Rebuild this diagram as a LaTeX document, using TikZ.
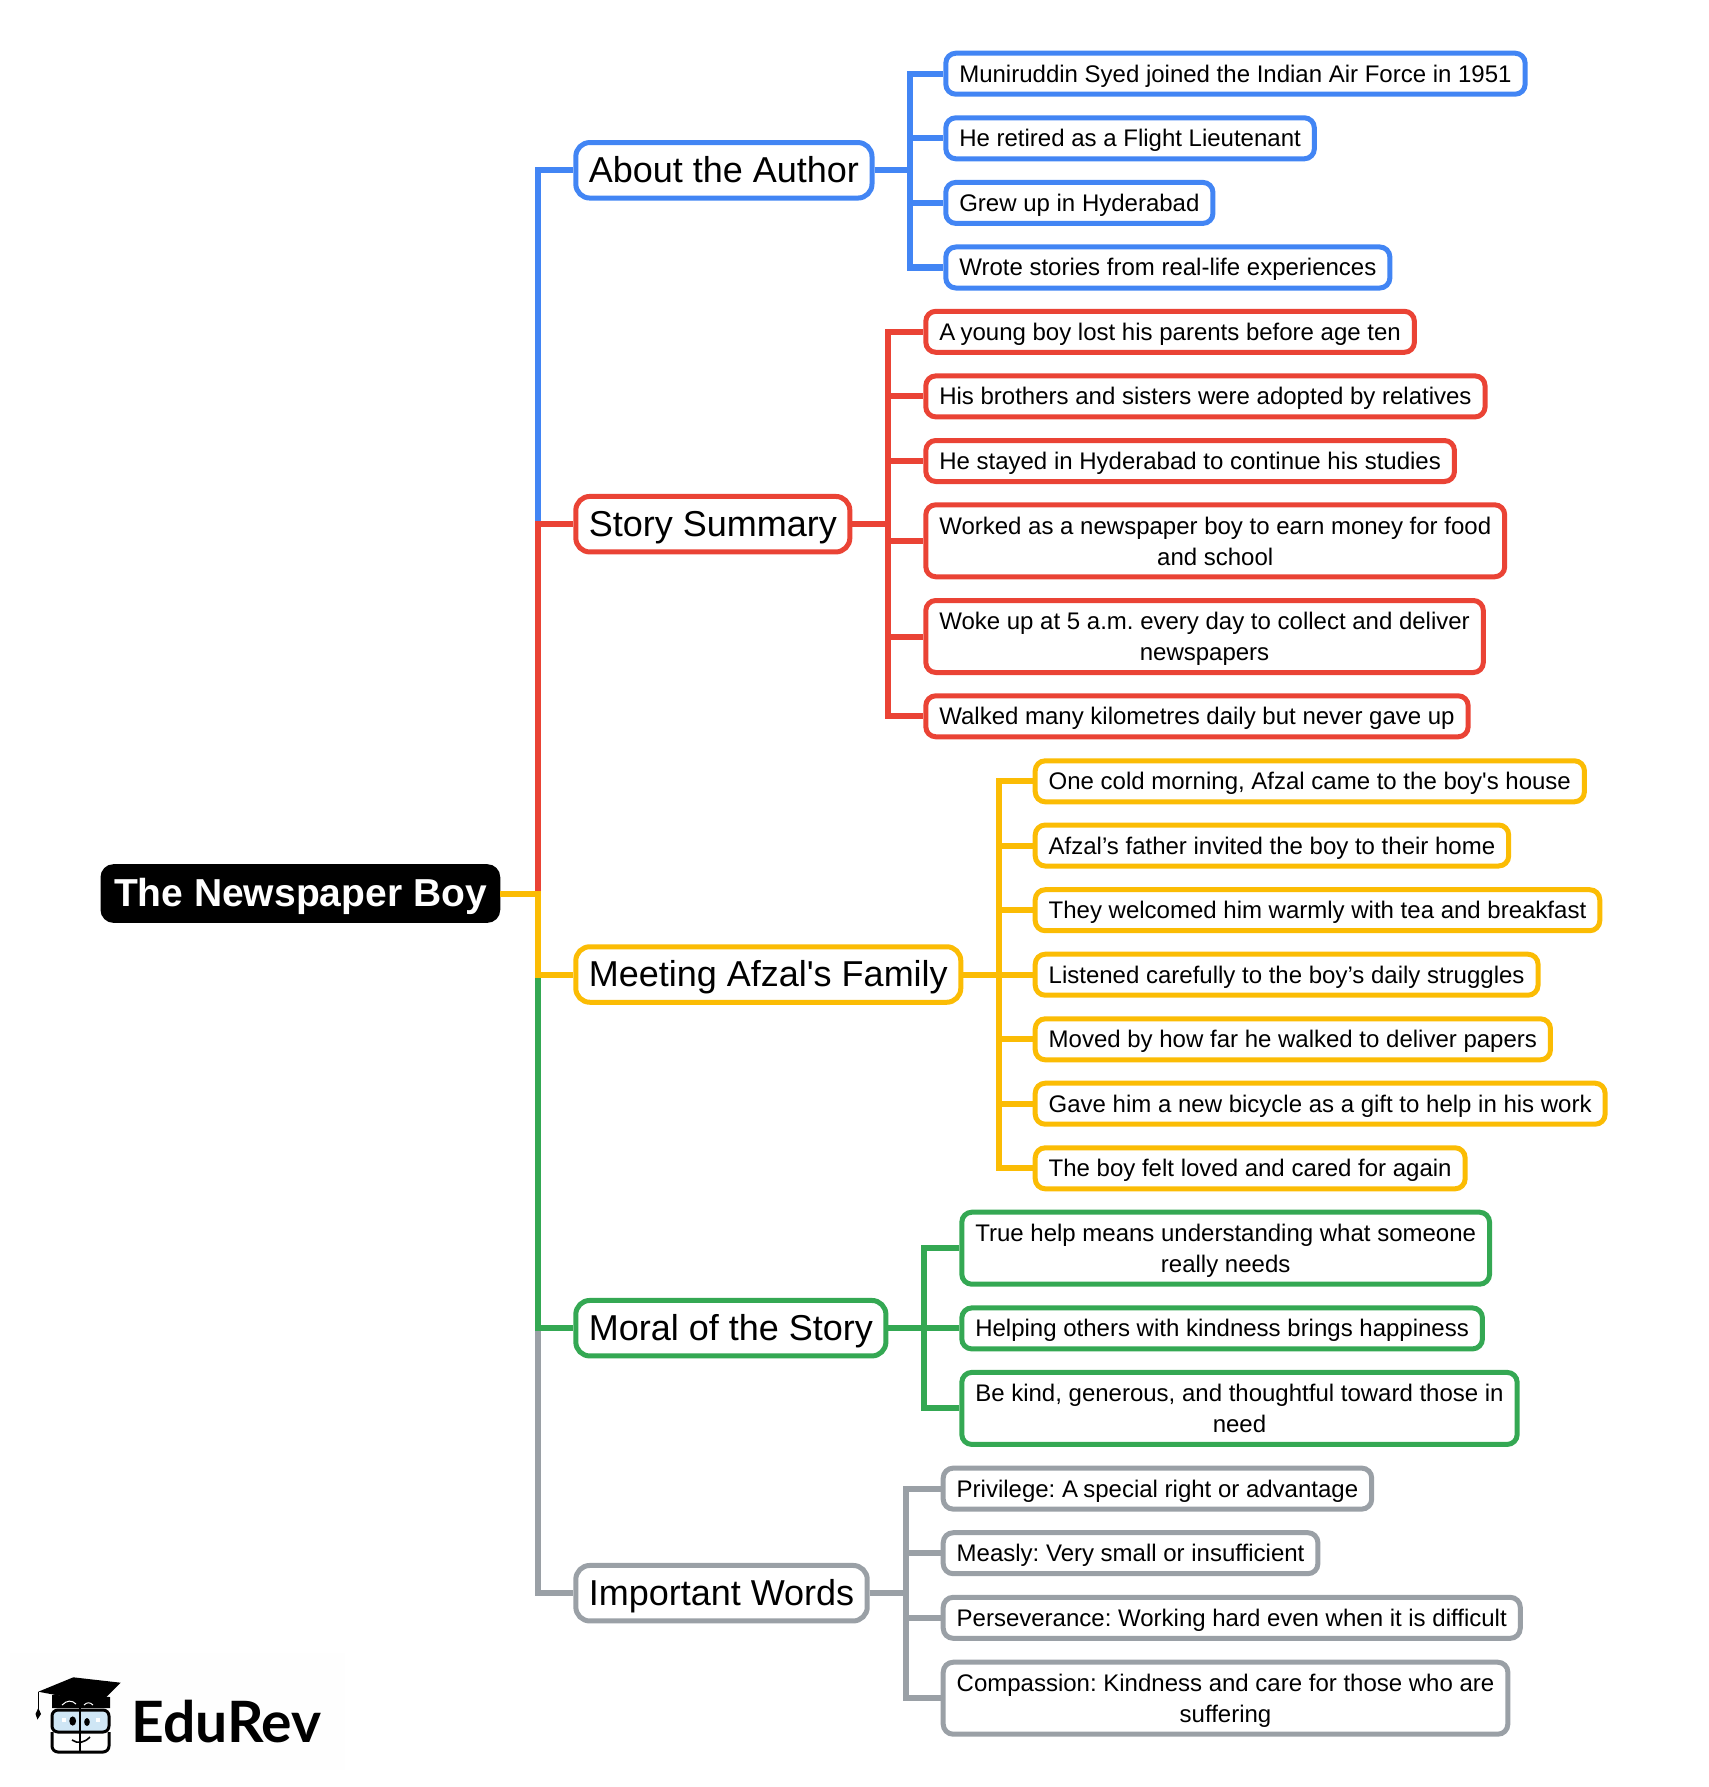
\documentclass[tikz,border=0pt]{standalone}
\usepackage{fontspec}
\setmainfont{Liberation Sans}
\newfontfamily\straightfont{Liberation Sans}
\newfontfamily\logofont{Lato}
\usetikzlibrary{shapes,arrows,calc}
\definecolor{authorblue}{HTML}{4285F4}
\definecolor{storyred}{HTML}{EA4335}
\definecolor{familyyellow}{HTML}{FBBC04}
\definecolor{moralgreen}{HTML}{34A853}
\definecolor{wordsgray}{HTML}{9AA0A6}
\definecolor{glassblue}{HTML}{CFE6F5}
\newcommand{\sq}{{\straightfont'}}
\newcommand{\firstline}{\rule{0pt}{23pt}}
\newcommand{\lastline}{\rule[-5.2pt]{0pt}{5.2pt}}
\tikzstyle{root} = [rectangle, fill=black, text=white, anchor=west, rounded corners=13pt, inner xsep=13.5pt,
    minimum height=58.7pt, text height=29pt, text depth=4pt, font=\fontsize{39}{45}\selectfont\bfseries]
\tikzstyle{branch} = [rectangle, draw, fill=white, line width=5pt, anchor=west, rounded corners=14pt, inner xsep=13pt,
    minimum height=55.5pt, text height=29pt, text depth=5pt, font=\fontsize{36}{42}\selectfont]
\tikzstyle{leaf} = [rectangle, draw, fill=white, line width=5pt, anchor=west, rounded corners=10pt, inner xsep=13.5pt,
    minimum height=41pt, inner ysep=0pt, text height=21pt, text depth=4pt, font=\fontsize{24}{31}\selectfont]
\tikzstyle{twoline} = [rectangle, draw, fill=white, line width=5pt, anchor=west, rounded corners=10pt, inner xsep=13.5pt,
    minimum height=72pt, inner ysep=5pt, align=center, font=\fontsize{24}{31}\selectfont]
\tikzstyle{line} = [draw, line width=6pt]

\begin{document}
\frenchspacing
\begin{tikzpicture}[x=1pt, y=-1pt]
    \useasboundingbox (0,0) rectangle (1708,1787);
    % Place nodes
    \node [root] (boy) at (100.3,893.5) {The Newspaper Boy};
    \node [branch, draw=authorblue, minimum width=294.4pt] (about) at (573.3,170.3) {About the Author};
    \node [branch, draw=storyred, minimum width=274pt] (story) at (573.3,524.2) {Story Summary};
    \node [branch, draw=familyyellow, minimum width=382.7pt] (family) at (573.3,974.5) {Meeting Afzal\sq s Family};
    \node [branch, draw=moralgreen, minimum width=310pt] (moral) at (573.3,1328.2) {Moral of the Story};
    \node [branch, draw=wordsgray, minimum width=291pt] (words) at (573.3,1593.2) {Important Words};
    \node [leaf, draw=authorblue] (syed) at (943.3,73.7) {Muniruddin Syed joined the Indian Air Force in 1951};
    \node [leaf, draw=authorblue] (retired) at (943.3,138.3) {He retired as a Flight Lieutenant};
    \node [leaf, draw=authorblue] (grew) at (943.3,202.9) {Grew up in Hyderabad};
    \node [leaf, draw=authorblue] (wrote) at (943.3,267.5) {Wrote stories from real-life experiences};
    \node [leaf, draw=storyred] (parents) at (923.3,331.8) {A\kern-1.4pt\ young boy lost his parents before age ten};
    \node [leaf, draw=storyred] (adopted) at (923.3,396.4) {His brothers and sisters were adopted by relatives};
    \node [leaf, draw=storyred] (stayed) at (923.3,461) {He stayed in Hyderabad to continue his studies};
    \node [twoline, draw=storyred] (worked) at (923.3,540.8) {\firstline Worked as a newspaper boy to earn money for food\\and school\lastline};
    \node [twoline, draw=storyred] (woke) at (923.3,636.5) {\firstline Woke up at 5 a.m. every day to collect and deliver\\newspapers\lastline};
    \node [leaf, draw=storyred] (walked) at (923.3,716.3) {Walked many kilometres daily but never gave up};
    \node [leaf, draw=familyyellow] (cold) at (1032.7,781.3) {One cold morning, Afzal came to the boy\sq s house};
    \node [leaf, draw=familyyellow] (invited) at (1032.7,845.5) {Afzal’s father invited the boy to their home};
    \node [leaf, draw=familyyellow] (welcomed) at (1032.7,910.2) {They welcomed him warmly with tea and breakfast};
    \node [leaf, draw=familyyellow] (listened) at (1032.7,974.7) {Listened carefully to the boy’s daily struggles};
    \node [leaf, draw=familyyellow] (moved) at (1032.7,1039.3) {Moved by how far he walked to deliver papers};
    \node [leaf, draw=familyyellow] (bicycle) at (1032.7,1103.7) {Gave him a new bicycle as a gift to help in his work};
    \node [leaf, draw=familyyellow] (loved) at (1032.7,1168.3) {The boy felt loved and cared for again};
    \node [twoline, draw=moralgreen] (help) at (959.3,1248.2) {\firstline True help means understanding what someone\\really needs\lastline};
    \node [leaf, draw=moralgreen] (helping) at (959.3,1328.4) {Helping others with kindness brings happiness};
    \node [twoline, draw=moralgreen] (kind) at (959.3,1408.4) {\firstline Be kind, generous, and thoughtful toward those in\\need\lastline};
    \node [leaf, draw=wordsgray] (privilege) at (940.7,1488.6) {Privilege: A\kern-1.4pt\ special right or advantage};
    \node [leaf, draw=wordsgray] (measly) at (940.7,1553.2) {Measly: Very small or insufficient};
    \node [leaf, draw=wordsgray] (perseverance) at (940.7,1617.8) {Perseverance: Working hard even when it is difficult};
    \node [twoline, draw=wordsgray] (compassion) at (940.7,1698.2) {\firstline Compassion: Kindness and care for those who are\\suffering\lastline};
    % Draw edges
    \path [line, draw=authorblue] (boy.east) -- ++(37.8,0) |- (about.west);
    \path [line, draw=storyred] (boy.east) -- ++(37.8,0) |- (story.west);
    \path [line, draw=wordsgray] (boy.east) -- ++(37.8,0) |- (words.west);
    \path [line, draw=moralgreen] (boy.east) -- ++(37.8,0) |- (moral.west);
    \path [line, draw=familyyellow] (boy.east) -- ++(37.8,0) |- (family.west);
    \path [line, draw=authorblue] (about.east) -- ++(35.5,0) |- (syed.west);
    \path [line, draw=authorblue] (about.east) -- ++(35.5,0) |- (retired.west);
    \path [line, draw=authorblue] (about.east) -- ++(35.5,0) |- (grew.west);
    \path [line, draw=authorblue] (about.east) -- ++(35.5,0) |- (wrote.west);
    \path [line, draw=storyred] (story.east) -- ++(35.5,0) |- (parents.west);
    \path [line, draw=storyred] (story.east) -- ++(35.5,0) |- (adopted.west);
    \path [line, draw=storyred] (story.east) -- ++(35.5,0) |- (stayed.west);
    \path [line, draw=storyred] (story.east) -- ++(35.5,0) |- (worked.west);
    \path [line, draw=storyred] (story.east) -- ++(35.5,0) |- (woke.west);
    \path [line, draw=storyred] (story.east) -- ++(35.5,0) |- (walked.west);
    \path [line, draw=familyyellow] (family.east) -- ++(35.7,0) |- (cold.west);
    \path [line, draw=familyyellow] (family.east) -- ++(35.7,0) |- (invited.west);
    \path [line, draw=familyyellow] (family.east) -- ++(35.7,0) |- (welcomed.west);
    \path [line, draw=familyyellow] (family.east) -- ++(35.7,0) |- (listened.west);
    \path [line, draw=familyyellow] (family.east) -- ++(35.7,0) |- (moved.west);
    \path [line, draw=familyyellow] (family.east) -- ++(35.7,0) |- (bicycle.west);
    \path [line, draw=familyyellow] (family.east) -- ++(35.7,0) |- (loved.west);
    \path [line, draw=moralgreen] (moral.east) -- ++(35.7,0) |- (help.west);
    \path [line, draw=moralgreen] (moral.east) -- ++(35.7,0) |- (helping.west);
    \path [line, draw=moralgreen] (moral.east) -- ++(35.7,0) |- (kind.west);
    \path [line, draw=wordsgray] (words.east) -- ++(36,0) |- (privilege.west);
    \path [line, draw=wordsgray] (words.east) -- ++(36,0) |- (measly.west);
    \path [line, draw=wordsgray] (words.east) -- ++(36,0) |- (perseverance.west);
    \path [line, draw=wordsgray] (words.east) -- ++(36,0) |- (compassion.west);
    % Logo
    \fill [black!0.5] (10,1653) rectangle (345,1770);
    \draw [line width=3pt, fill=glassblue, rounded corners=6pt] (52,1710) rectangle (109,1732);
    \draw [line width=3pt, rounded corners=6pt] (52,1732) -- (52,1752) -- (109,1752) -- (109,1732);
    \fill (52,1695) -- (110,1697) -- (110,1708) -- (52,1708) -- cycle;
    \fill (38.3,1691.7) -- (73.3,1677.3) -- (120.7,1682.7) -- (100,1703.3) -- cycle;
    \draw [white, line width=1pt] (62,1705) .. controls (67,1700) and (72,1700) .. (76,1704);
    \draw [white, line width=1pt] (84,1705) .. controls (87,1702) and (90,1702) .. (93,1705);
    \draw [line width=1.2pt] (38.3,1691.7) -- (38.3,1710);
    \fill (38.3,1708) -- (41,1714) -- (37.5,1719.5) -- (35.5,1714) -- cycle;
    \draw [line width=2.5pt] (80,1708) -- (80,1752);
    \fill [white] (61.5,1717.5) rectangle (65.5,1721.5);
    \fill [white] (95.5,1718) rectangle (99.5,1722);
    \fill (72.7,1721) ellipse (3.4 and 4.6);
    \fill (87,1722) ellipse (2.8 and 4);
    \draw [line width=1.6pt] (72,1740) .. controls (78,1744) and (84,1743) .. (90,1737);
    \node [font=\fontsize{57}{62}\selectfont\logofont\bfseries, anchor=base west, inner sep=0pt] (edurev) at (131,1742) {EduRev};
\end{tikzpicture}
\end{document}
